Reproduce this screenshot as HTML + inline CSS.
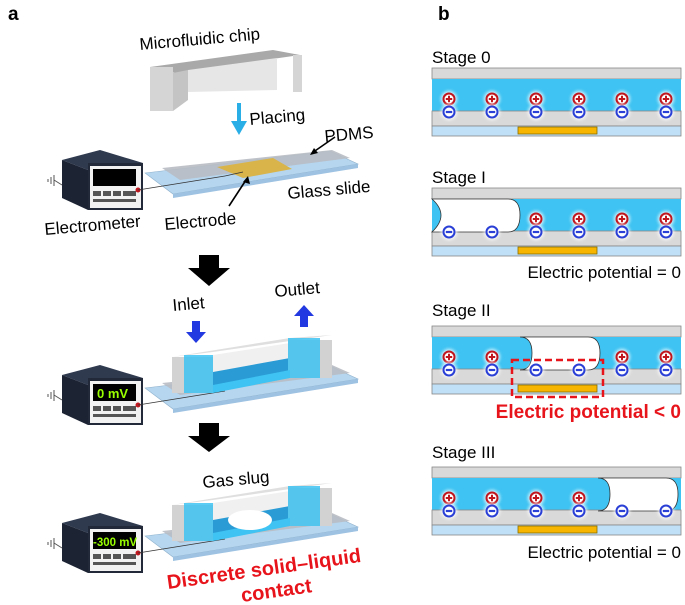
<!DOCTYPE html>
<html><head><meta charset="utf-8"><style>
html,body{margin:0;padding:0;background:#fff;}
svg{display:block;font-family:"Liberation Sans",sans-serif;}
</style></head><body>
<svg width="685" height="605" viewBox="0 0 685 605" xmlns="http://www.w3.org/2000/svg">
<defs>
<filter id="gl" x="-1" y="-1" width="3" height="3"><feGaussianBlur stdDeviation="1.5"/></filter>
<g id="pos"><circle r="8" fill="#fff" opacity="0.8" filter="url(#gl)"/><circle r="5.5" fill="#fff" stroke="#c0161e" stroke-width="2"/><path d="M-3.2 0H3.2M0 -3.2V3.2" stroke="#c0161e" stroke-width="2"/></g>
<g id="neg"><circle r="8" fill="#fff" opacity="0.8" filter="url(#gl)"/><circle r="5.5" fill="#fff" stroke="#2a3fd6" stroke-width="2"/><path d="M-3.2 0H3.2" stroke="#2a3fd6" stroke-width="2.2"/></g>
<g id="base">
<rect x="432" y="0" width="249" height="11" fill="#d9d9d9" stroke="#888" stroke-width="0.8"/>
<rect x="432" y="11" width="249" height="33" fill="#3ec3f2"/>
<rect x="432" y="43" width="249" height="15" fill="#d9d9d9" stroke="#888" stroke-width="0.8"/>
<rect x="432" y="58" width="249" height="10" fill="#bfe0f6" stroke="#888" stroke-width="0.8"/>
<rect x="518" y="59" width="79" height="7" fill="#f7b500" stroke="#8a6d00" stroke-width="0.8"/>
</g>
<g id="meter">
<polygon points="62,160 100,150 143,163 88,170" fill="#2f3a4f"/>
<polygon points="62,160 88,170 88,210 62,198" fill="#1c2333"/>
<rect x="88" y="163" width="55" height="47" fill="#222a3a"/>
<rect x="90" y="166" width="51" height="42" fill="#f2f2f2"/>
<rect x="93" y="169" width="43" height="17" fill="#000"/>
<rect x="93" y="191" width="8" height="5" fill="#555"/><rect x="103" y="191" width="8" height="5" fill="#555"/><rect x="113" y="191" width="8" height="5" fill="#555"/><rect x="123" y="191" width="13" height="5" fill="#555"/>
<rect x="93" y="199" width="43" height="3" fill="#555"/>
<circle cx="138" cy="190" r="2.5" fill="#c0161e"/>
<path d="M62 185L54 180M54 175V186M51 177V184M48 179V182" stroke="#555" stroke-width="1"/>
</g>
<g id="slide">
<polygon points="145,173 330,151 358,164 173,194" fill="#b6d6ef" stroke="#8fb1cc" stroke-width="0.6"/>
<polygon points="173,194 358,164 358,168 173,198" fill="#9dc2e2"/>
<polygon points="162,168 332,150 350,158 180,180" fill="#b8bcc3" opacity="0.9"/>
<line x1="138" y1="190" x2="225" y2="176" stroke="#333" stroke-width="0.8"/>
</g>
<g id="chipg">
<polygon points="172,357 290,338 332,335 213,352" fill="#dcdcdc" opacity="0.9"/>
<polygon points="213,355 290,343 290,375 213,387" fill="#f0f0f0"/>
<polygon points="213,372 290,358 290,375 213,390" fill="#2a9bd5"/>
<rect x="172" y="357" width="41" height="36" fill="#d2d2d2"/>
<rect x="184" y="355" width="29" height="38" fill="#3ec3f2" opacity="0.85"/>
<rect x="288" y="340" width="44" height="38" fill="#d2d2d2"/>
<rect x="288" y="338" width="32" height="40" fill="#3ec3f2" opacity="0.85"/>
<polygon points="213,385 290,370 290,378 213,393" fill="#3ec3f2"/>
</g>
</defs>

<text x="8" y="20" font-size="19" font-weight="bold">a</text>
<text x="438" y="20" font-size="19" font-weight="bold">b</text>

<text x="140" y="50" font-size="17" transform="rotate(-5 140 50)">Microfluidic chip</text>
<polygon points="150,67 273,50 300,55 175,73" fill="#a9a9a9"/>
<polygon points="188,70 277,58 277,90 188,92" fill="#e6e6e6"/>
<rect x="150" y="67" width="23" height="44" fill="#d5d5d5"/>
<polygon points="173,73 188,70 188,100 173,111" fill="#c4c4c4"/>
<polygon points="293,55 302,55 302,92 293,92" fill="#d5d5d5"/>
<rect x="237" y="103" width="4" height="20" fill="#29aee6"/>
<polygon points="231,121 247,121 239,135" fill="#29aee6"/>
<text x="250" y="125" font-size="17" transform="rotate(-5 250 125)">Placing</text>

<use href="#meter"/>
<use href="#slide"/>
<polygon points="217,167 273,158 292,169 243,178" fill="#d8b44a"/>
<line x1="225" y1="176" x2="243" y2="172" stroke="#333" stroke-width="0.8"/>
<text x="325" y="142" font-size="17" transform="rotate(-5 325 142)">PDMS</text>
<path d="M335 137L312 153" stroke="#000" stroke-width="1.6"/><polygon points="310,155 314,148 318,153" fill="#000"/>
<text x="288" y="199" font-size="17" transform="rotate(-5 288 199)">Glass slide</text>
<text x="165" y="230" font-size="17" transform="rotate(-5 165 230)">Electrode</text>
<path d="M229 206L246 180" stroke="#000" stroke-width="1.6"/><polygon points="248,176 250,184 243,182" fill="#000"/>
<text x="45" y="235" font-size="17" transform="rotate(-5 45 235)">Electrometer</text>

<polygon points="199,255 219,255 219,268 230,268 209,286 188,268 199,268" fill="#000"/>
<text x="173" y="311" font-size="17" transform="rotate(-5 173 311)">Inlet</text>
<text x="275" y="297" font-size="17" transform="rotate(-5 275 297)">Outlet</text>
<rect x="192" y="321" width="8" height="12" fill="#2238e0"/><polygon points="186,332 206,332 196,343" fill="#2238e0"/>
<rect x="300" y="315" width="8" height="12" fill="#2238e0"/><polygon points="294,316 314,316 304,305" fill="#2238e0"/>

<g transform="translate(0,215)"><use href="#meter"/><use href="#slide"/></g>
<text x="97" y="398" font-size="13" font-weight="bold" fill="#9f0">0 mV</text>
<use href="#chipg"/>
<polygon points="199,423 219,423 219,436 230,436 209,452 188,436 199,436" fill="#000"/>
<text x="203" y="488" font-size="17" transform="rotate(-5 203 488)">Gas slug</text>

<g transform="translate(0,363)"><use href="#meter"/><use href="#slide"/></g>
<text x="93" y="546" font-size="11.5" font-weight="bold" fill="#9f0">-300 mV</text>
<g transform="translate(0,148)">
<use href="#chipg"/>
<ellipse cx="250" cy="372" rx="22" ry="10" fill="#fff"/>
</g>
<text x="168" y="589" font-size="20" font-weight="bold" fill="#e8141c" transform="rotate(-8 168 589)">Discrete solid–liquid</text>
<text x="242" y="602" font-size="20" font-weight="bold" fill="#e8141c" transform="rotate(-8 242 602)">contact</text>

<text x="432" y="63" font-size="17">Stage 0</text>
<g transform="translate(0,68)"><use href="#base"/>
<g transform="translate(0,31)"><use href="#pos" x="449"/><use href="#pos" x="492"/><use href="#pos" x="536"/><use href="#pos" x="579"/><use href="#pos" x="622"/><use href="#pos" x="666"/></g>
<g transform="translate(0,44)"><use href="#neg" x="449"/><use href="#neg" x="492"/><use href="#neg" x="536"/><use href="#neg" x="579"/><use href="#neg" x="622"/><use href="#neg" x="666"/></g>
</g>
<text x="432" y="183" font-size="17">Stage I</text>
<g transform="translate(0,188)"><use href="#base"/>
<path d="M432 11H508Q520 11 520 27Q520 44 508 44H432Q450 27 432 11Z" fill="#fff" stroke="#333" stroke-width="0.8"/>
<g transform="translate(0,31)"><use href="#pos" x="536"/><use href="#pos" x="579"/><use href="#pos" x="622"/><use href="#pos" x="666"/></g>
<g transform="translate(0,44)"><use href="#neg" x="449"/><use href="#neg" x="492"/><use href="#neg" x="536"/><use href="#neg" x="579"/><use href="#neg" x="622"/><use href="#neg" x="666"/></g>
</g>
<text x="681" y="278" font-size="17" text-anchor="end">Electric potential = 0</text>
<text x="432" y="316" font-size="17">Stage II</text>
<g transform="translate(0,326)"><use href="#base"/>
<path d="M520 11H588Q600 11 600 27Q600 44 588 44H520Q532 44 532 27Q532 11 520 11Z" fill="#fff" stroke="#333" stroke-width="0.8"/>
<g transform="translate(0,31)"><use href="#pos" x="449"/><use href="#pos" x="492"/><use href="#pos" x="622"/><use href="#pos" x="666"/></g>
<g transform="translate(0,44)"><use href="#neg" x="449"/><use href="#neg" x="492"/><use href="#neg" x="536"/><use href="#neg" x="579"/><use href="#neg" x="622"/><use href="#neg" x="666"/></g>
<rect x="512" y="34" width="91" height="37" fill="none" stroke="#e8141c" stroke-width="2.5" stroke-dasharray="7,4"/>
</g>
<text x="681" y="418" font-size="19" font-weight="bold" fill="#e8141c" text-anchor="end">Electric potential &lt; 0</text>
<text x="432" y="458" font-size="17">Stage III</text>
<g transform="translate(0,467)"><use href="#base"/>
<path d="M598 11H666Q678 11 678 27Q678 44 666 44H598Q610 44 610 27Q610 11 598 11Z" fill="#fff" stroke="#333" stroke-width="0.8"/>
<g transform="translate(0,31)"><use href="#pos" x="449"/><use href="#pos" x="492"/><use href="#pos" x="536"/><use href="#pos" x="579"/></g>
<g transform="translate(0,44)"><use href="#neg" x="449"/><use href="#neg" x="492"/><use href="#neg" x="536"/><use href="#neg" x="579"/><use href="#neg" x="622"/><use href="#neg" x="666"/></g>
</g>
<text x="681" y="558" font-size="17" text-anchor="end">Electric potential = 0</text>
</svg>
</body></html>
